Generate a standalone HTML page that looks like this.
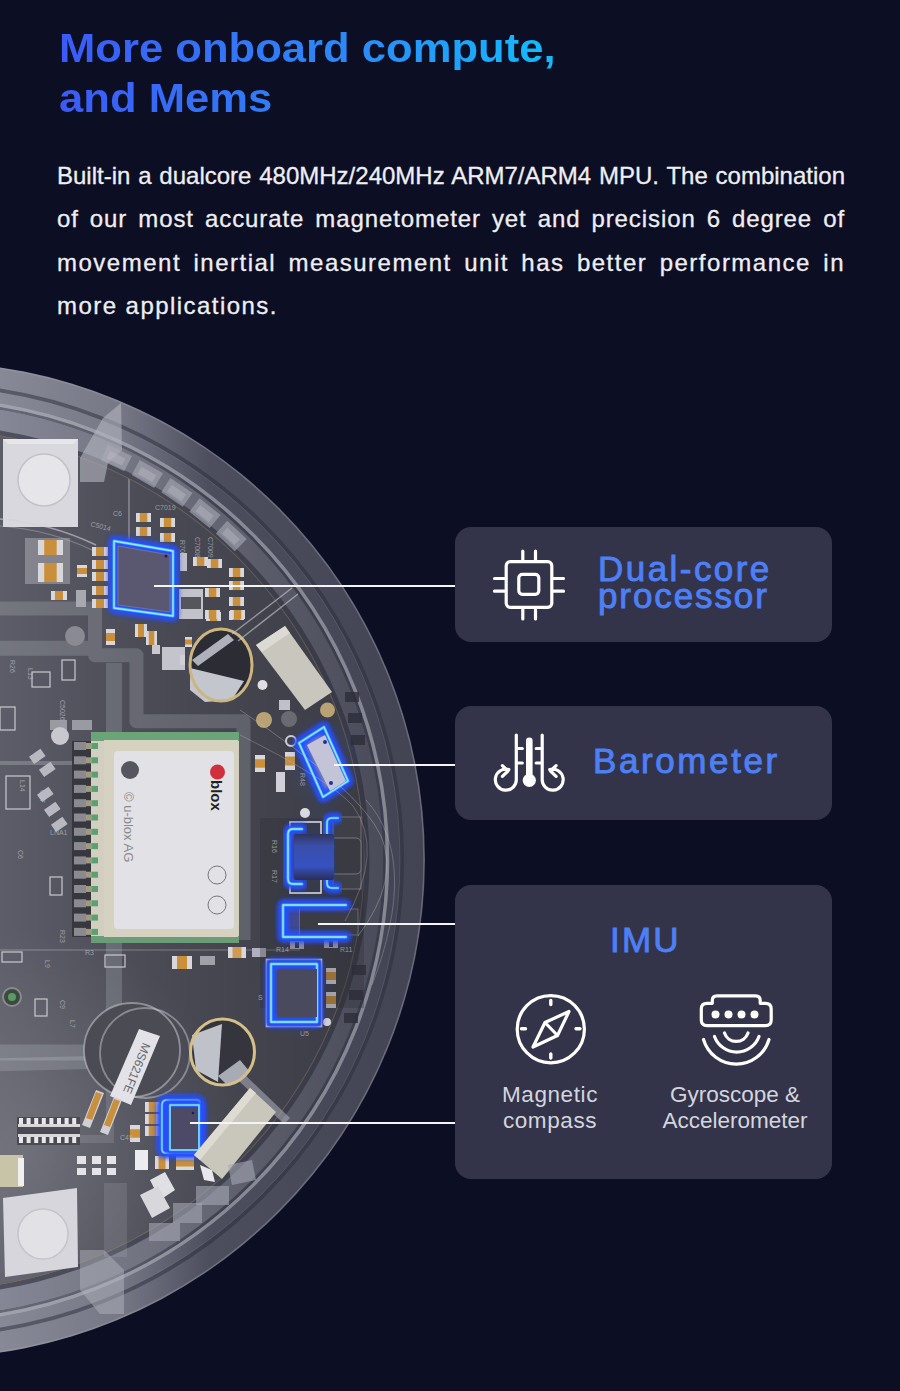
<!DOCTYPE html>
<html><head><meta charset="utf-8">
<style>
html,body{margin:0;padding:0;}
body{width:900px;height:1391px;overflow:hidden;background:#0c0e23;position:relative;font-family:"Liberation Sans",sans-serif;}
.abs{position:absolute;}
h1{position:absolute;left:59px;top:23px;margin:0;font-size:40px;line-height:50px;font-weight:bold;letter-spacing:0px;white-space:nowrap;transform:scaleX(1.09);transform-origin:0 0;
 background:linear-gradient(90deg,#3b5af8 0px,#3570f6 130px,#2a8cf8 280px,#14b8fc 440px,#12bcfc 480px);-webkit-background-clip:text;background-clip:text;color:transparent;width:520px;}
.para{position:absolute;left:57px;top:154px;width:788px;color:#eeeef3;font-size:24px;line-height:43.4px;-webkit-text-stroke:0.3px #eeeef3;}
.para div{text-align:justify;text-align-last:justify;white-space:nowrap;}
.para div.last{text-align-last:left;letter-spacing:1.45px;}
.card{position:absolute;left:455px;width:377px;background:#33344a;border-radius:16px;}
.ttl{position:absolute;color:#4d7ff5;font-weight:normal;-webkit-text-stroke:0.9px #4d7ff5;font-size:34px;white-space:nowrap;}
.lbl{position:absolute;color:#d4d5de;font-size:22.5px;white-space:nowrap;text-align:center;}
.ln{position:absolute;height:2px;background:#f4f4f6;}
svg{position:absolute;left:0;top:0;}
</style></head>
<body>
<h1>More onboard compute,<br>and Mems</h1>
<div class="para">
<div>Built-in a dualcore 480MHz/240MHz ARM7/ARM4 MPU. The combination</div>
<div style="letter-spacing:0.9px">of our most accurate magnetometer yet and precision 6 degree of</div>
<div style="letter-spacing:1.5px">movement inertial measurement unit has better performance in</div>
<div class="last">more applications.</div>
</div>

<!-- PCB -->
<svg id="pcb" width="900" height="1391" viewBox="0 0 900 1391">
<!--PCBSTART-->
<defs>
 <clipPath id="cOuter"><circle cx="-73" cy="860" r="498"/></clipPath>
 <clipPath id="cPcb"><ellipse cx="-73" cy="860" rx="437" ry="430"/></clipPath>
 <linearGradient id="gRim" x1="0" y1="0" x2="424" y2="0" gradientUnits="userSpaceOnUse">
  <stop offset="0" stop-color="#878997"/><stop offset="0.283" stop-color="#767886"/><stop offset="0.495" stop-color="#4c4e5e"/><stop offset="1" stop-color="#424454"/>
 </linearGradient>
 <linearGradient id="gDark" x1="0" y1="0" x2="424" y2="0" gradientUnits="userSpaceOnUse">
  <stop offset="0" stop-color="#858796"/><stop offset="0.354" stop-color="#70727f"/><stop offset="0.613" stop-color="#5a5c6a"/><stop offset="1" stop-color="#444654"/>
 </linearGradient>
 <linearGradient id="gPcb" x1="0" y1="0" x2="370" y2="0" gradientUnits="userSpaceOnUse">
  <stop offset="0" stop-color="#5c5d68"/><stop offset="0.4" stop-color="#4a4b55"/><stop offset="1" stop-color="#3a3b44"/>
 </linearGradient>
 <radialGradient id="gBL" cx="20" cy="1150" r="220" gradientUnits="userSpaceOnUse">
  <stop offset="0" stop-color="#ffffff" stop-opacity="0.14"/><stop offset="1" stop-color="#ffffff" stop-opacity="0"/>
 </radialGradient>
 <filter id="glow" x="-30%" y="-30%" width="160%" height="160%"><feGaussianBlur stdDeviation="2.6" result="b"/><feMerge><feMergeNode in="b"/><feMergeNode in="b"/></feMerge></filter>
 <radialGradient id="gHalo"><stop offset="0" stop-color="#3060ff" stop-opacity="0.22"/><stop offset="0.6" stop-color="#3060ff" stop-opacity="0.08"/><stop offset="1" stop-color="#3060ff" stop-opacity="0"/></radialGradient>
 <filter id="soft" x="-30%" y="-30%" width="160%" height="160%"><feGaussianBlur stdDeviation="0.6"/></filter>
</defs>
<g clip-path="url(#cOuter)">
 <rect x="0" y="360" width="430" height="1000" fill="url(#gRim)"/>
 <circle cx="-73" cy="860" r="475" fill="none" stroke="#2a2c3a" stroke-opacity="0.5" stroke-width="4"/>
 <circle cx="-73" cy="860" r="473" fill="none" stroke="#a8aab6" stroke-opacity="0.2" stroke-width="1"/>
 <circle cx="-73" cy="860" r="457.5" fill="none" stroke="#2a2c3a" stroke-opacity="0.35" stroke-width="3"/>
 <circle cx="-73" cy="860" r="460.5" fill="none" stroke="#b0b2bc" stroke-opacity="0.6" stroke-width="3.5"/>
 <circle cx="-73" cy="860" r="456" fill="url(#gDark)"/>
 <ellipse cx="-73" cy="860" rx="440" ry="433" fill="none" stroke="#2a2c38" stroke-opacity="0.6" stroke-width="5"/>
 <circle cx="-73" cy="860" r="497" fill="none" stroke="#a0a2b0" stroke-opacity="0.4" stroke-width="1.5"/>
</g>
<g clip-path="url(#cPcb)">
 <rect x="0" y="360" width="440" height="1000" fill="url(#gPcb)"/>
 <rect x="0" y="900" width="300" height="460" fill="url(#gBL)"/>
 <path d="M-5 608.5H95V655.3H136.5V721.3H243.5V940" stroke-width="14" stroke="#d8dae2" stroke-opacity="0.2" fill="none" stroke-linejoin="round"/>
 <path d="M-5 648.3H88" stroke-width="15" stroke="#d8dae2" stroke-opacity="0.2" fill="none" stroke-linejoin="round"/>
 <path d="M114 663V1052.5H-5" stroke-width="16" stroke="#d8dae2" stroke-opacity="0.2" fill="none" stroke-linejoin="round"/>
 <path d="M-5 1065L110 1062" stroke-width="13" stroke="#d8dae2" stroke-opacity="0.2" fill="none" stroke-linejoin="round"/>
 <line x1="0" y1="950" x2="300" y2="950" stroke="#d8dae2" stroke-opacity="0.25" stroke-width="1.5"/>
 <line x1="0" y1="763" x2="120" y2="763" stroke="#d8dae2" stroke-opacity="0.25" stroke-width="4"/>
 <path d="M20 1139H110V1080" stroke-width="8" stroke="#d8dae2" stroke-opacity="0.15" fill="none"/>
 <line x1="129" y1="470" x2="129" y2="540" stroke="#c8cad2" stroke-opacity="0.5" stroke-width="1.5"/>
</g>
<ellipse cx="-73" cy="860" rx="437" ry="430" fill="none" stroke="#6e5e4c" stroke-opacity="0.7" stroke-width="1"/>
 <rect x="136" y="513" width="15" height="9" fill="#d8d8dc"/>
 <rect x="139.8" y="513" width="7.5" height="9" fill="#c98f3a"/>
 <rect x="136" y="527" width="15" height="9" fill="#d8d8dc"/>
 <rect x="139.8" y="527" width="7.5" height="9" fill="#c98f3a"/>
 <rect x="160" y="518" width="15" height="9" fill="#d8d8dc"/>
 <rect x="163.8" y="518" width="7.5" height="9" fill="#c98f3a"/>
 <rect x="160" y="533" width="15" height="9" fill="#d8d8dc"/>
 <rect x="163.8" y="533" width="7.5" height="9" fill="#c98f3a"/>
 <rect x="193" y="557" width="15" height="9" fill="#d8d8dc"/>
 <rect x="196.8" y="557" width="7.5" height="9" fill="#c98f3a"/>
 <rect x="207" y="559" width="15" height="9" fill="#d8d8dc"/>
 <rect x="210.8" y="559" width="7.5" height="9" fill="#c98f3a"/>
 <rect x="229" y="568" width="15" height="9" fill="#d8d8dc"/>
 <rect x="232.8" y="568" width="7.5" height="9" fill="#c98f3a"/>
 <rect x="229" y="581" width="15" height="9" fill="#d8d8dc"/>
 <rect x="232.8" y="581" width="7.5" height="9" fill="#c98f3a"/>
 <rect x="229" y="597" width="15" height="9" fill="#d8d8dc"/>
 <rect x="232.8" y="597" width="7.5" height="9" fill="#c98f3a"/>
 <rect x="229" y="611" width="15" height="9" fill="#d8d8dc"/>
 <rect x="232.8" y="611" width="7.5" height="9" fill="#c98f3a"/>
 <rect x="205" y="588" width="15" height="9" fill="#d8d8dc"/>
 <rect x="208.8" y="588" width="7.5" height="9" fill="#c98f3a"/>
 <rect x="206" y="612" width="15" height="9" fill="#d8d8dc"/>
 <rect x="209.8" y="612" width="7.5" height="9" fill="#c98f3a"/>
 <rect x="205" y="610" width="15" height="9" fill="#d8d8dc"/>
 <rect x="208.8" y="610" width="7.5" height="9" fill="#c98f3a"/>
 <rect x="230" y="610" width="15" height="9" fill="#d8d8dc"/>
 <rect x="233.8" y="610" width="7.5" height="9" fill="#c98f3a"/>
 <rect x="92" y="547" width="16" height="9" fill="#d8d8dc"/>
 <rect x="96.0" y="547" width="8.0" height="9" fill="#c98f3a"/>
 <rect x="92" y="560" width="16" height="9" fill="#d8d8dc"/>
 <rect x="96.0" y="560" width="8.0" height="9" fill="#c98f3a"/>
 <rect x="92" y="572" width="16" height="9" fill="#d8d8dc"/>
 <rect x="96.0" y="572" width="8.0" height="9" fill="#c98f3a"/>
 <rect x="92" y="586" width="16" height="9" fill="#d8d8dc"/>
 <rect x="96.0" y="586" width="8.0" height="9" fill="#c98f3a"/>
 <rect x="92" y="599" width="16" height="9" fill="#d8d8dc"/>
 <rect x="96.0" y="599" width="8.0" height="9" fill="#c98f3a"/>
 <rect x="77" y="565" width="10" height="12" fill="#d8d8dc"/>
 <rect x="77" y="568.0" width="10" height="6.0" fill="#c98f3a"/>
 <rect x="76" y="590" width="10" height="17" fill="#a8a8b0" fill-opacity="1"/>
 <rect x="51" y="591" width="16" height="9" fill="#d8d8dc"/>
 <rect x="55.0" y="591" width="8.0" height="9" fill="#c98f3a"/>
 <rect x="106" y="629" width="9" height="16" fill="#d8d8dc"/>
 <rect x="106" y="633.0" width="9" height="8.0" fill="#c98f3a"/>
 <rect x="135" y="624" width="12" height="13" fill="#d8d8dc"/>
 <rect x="138.0" y="624" width="6.0" height="13" fill="#c98f3a"/>
 <rect x="146" y="631" width="11" height="14" fill="#d8d8dc"/>
 <rect x="148.8" y="631" width="5.5" height="14" fill="#c98f3a"/>
 <rect x="152" y="645" width="8" height="9" fill="#c8c8ce" fill-opacity="1"/>
 <rect x="162" y="647" width="23" height="23" fill="#c4c4cc" fill-opacity="1"/>
 <circle cx="75" cy="636" r="10" fill="#8a8a92"/>
 <rect x="25" y="538" width="45" height="22" fill="#b0b0b8" fill-opacity="0.5"/>
 <rect x="25" y="560" width="45" height="24" fill="#b0b0b8" fill-opacity="0.5"/>
 <rect x="38" y="540" width="25" height="15" fill="#d8d8dc"/>
 <rect x="44.2" y="540" width="12.5" height="15" fill="#c98f3a"/>
 <rect x="38" y="563" width="25" height="19" fill="#d8d8dc"/>
 <rect x="44.2" y="563" width="12.5" height="19" fill="#c98f3a"/>
 <rect x="180" y="553" width="7" height="18" fill="#c0c0c8" fill-opacity="1"/>
 <rect x="179" y="589" width="24" height="30" fill="#c2c2ca" fill-opacity="1"/>
 <rect x="181" y="597" width="20" height="12" fill="#55555c" fill-opacity="1"/>
 <rect x="185" y="637" width="7" height="10" fill="#d8d8dc"/>
 <rect x="185" y="639.5" width="7" height="5.0" fill="#c98f3a"/>
 <rect x="180" y="655" width="5" height="10" fill="#d0d0d6" fill-opacity="1"/>
 <rect x="32" y="672" width="18" height="15" fill="none" stroke="#c8c8d0" stroke-width="1.2"/>
 <rect x="62" y="660" width="13" height="20" fill="none" stroke="#c8c8d0" stroke-width="1.2"/>
 <rect x="0" y="707" width="15" height="23" fill="none" stroke="#c8c8d0" stroke-width="1.2"/>
 <rect x="6" y="776" width="24" height="33" fill="none" stroke="#c8c8d0" stroke-width="1.2"/>
 <rect x="50" y="877" width="12" height="18" fill="none" stroke="#c8c8d0" stroke-width="1.2"/>
 <rect x="2" y="952" width="20" height="10" fill="none" stroke="#c8c8d0" stroke-width="1.2"/>
 <rect x="105" y="955" width="20" height="12" fill="none" stroke="#c8c8d0" stroke-width="1.2"/>
 <rect x="35" y="999" width="12" height="17" fill="none" stroke="#c8c8d0" stroke-width="1.2"/>
 <rect x="50" y="720" width="17" height="10" fill="#9a9aa2" fill-opacity="1"/>
 <rect x="72" y="720" width="20" height="10" fill="#9a9aa2" fill-opacity="1"/>
 <circle cx="60" cy="736" r="9" fill="#c8c8ce"/>
 <circle cx="12" cy="997" r="9" fill="#3a4a3e" stroke="#8a8a90" stroke-width="2"/><circle cx="12" cy="997" r="4" fill="#5a9a64"/>
 <rect x="30" y="752" width="14" height="9" fill="#b8b8c0" transform="rotate(-35 37 756)"/>
 <rect x="40" y="765" width="14" height="9" fill="#b8b8c0" transform="rotate(-35 47 769)"/>
 <rect x="38" y="790" width="14" height="9" fill="#b8b8c0" transform="rotate(-35 45 794)"/>
 <rect x="45" y="805" width="14" height="9" fill="#b8b8c0" transform="rotate(-35 52 809)"/>
 <rect x="52" y="820" width="14" height="9" fill="#b8b8c0" transform="rotate(-35 59 824)"/>
 <rect x="172" y="956" width="20" height="13" fill="#d8d8dc"/>
 <rect x="177.0" y="956" width="10.0" height="13" fill="#c98f3a"/>
 <rect x="200" y="956" width="15" height="9" fill="#a0a0a8" fill-opacity="1"/>
 <rect x="17" y="1117" width="63" height="28" fill="#4a4b52" fill-opacity="1"/>
 <rect x="19.0" y="1118" width="4" height="6" fill="#e8e8ec" fill-opacity="1"/>
 <rect x="19.0" y="1137" width="4" height="6" fill="#e8e8ec" fill-opacity="1"/>
 <rect x="26.6" y="1118" width="4" height="6" fill="#e8e8ec" fill-opacity="1"/>
 <rect x="26.6" y="1137" width="4" height="6" fill="#e8e8ec" fill-opacity="1"/>
 <rect x="34.2" y="1118" width="4" height="6" fill="#e8e8ec" fill-opacity="1"/>
 <rect x="34.2" y="1137" width="4" height="6" fill="#e8e8ec" fill-opacity="1"/>
 <rect x="41.8" y="1118" width="4" height="6" fill="#e8e8ec" fill-opacity="1"/>
 <rect x="41.8" y="1137" width="4" height="6" fill="#e8e8ec" fill-opacity="1"/>
 <rect x="49.4" y="1118" width="4" height="6" fill="#e8e8ec" fill-opacity="1"/>
 <rect x="49.4" y="1137" width="4" height="6" fill="#e8e8ec" fill-opacity="1"/>
 <rect x="57.0" y="1118" width="4" height="6" fill="#e8e8ec" fill-opacity="1"/>
 <rect x="57.0" y="1137" width="4" height="6" fill="#e8e8ec" fill-opacity="1"/>
 <rect x="64.6" y="1118" width="4" height="6" fill="#e8e8ec" fill-opacity="1"/>
 <rect x="64.6" y="1137" width="4" height="6" fill="#e8e8ec" fill-opacity="1"/>
 <rect x="72.19999999999999" y="1118" width="4" height="6" fill="#e8e8ec" fill-opacity="1"/>
 <rect x="72.19999999999999" y="1137" width="4" height="6" fill="#e8e8ec" fill-opacity="1"/>
 <rect x="18" y="1124" width="62" height="3" fill="#d8d8dc" fill-opacity="1"/>
 <rect x="18" y="1134" width="62" height="3" fill="#d8d8dc" fill-opacity="1"/>
 <rect x="145" y="1102" width="15" height="10" fill="#d8d8dc"/>
 <rect x="148.8" y="1102" width="7.5" height="10" fill="#c98f3a"/>
 <rect x="145" y="1114" width="15" height="10" fill="#d8d8dc"/>
 <rect x="148.8" y="1114" width="7.5" height="10" fill="#c98f3a"/>
 <rect x="145" y="1126" width="15" height="10" fill="#d8d8dc"/>
 <rect x="148.8" y="1126" width="7.5" height="10" fill="#c98f3a"/>
 <rect x="130" y="1125" width="10" height="17" fill="#d8d8dc"/>
 <rect x="130" y="1129.2" width="10" height="8.5" fill="#c98f3a"/>
 <rect x="135" y="1150" width="13" height="20" fill="#ececf0" fill-opacity="1"/>
 <rect x="77" y="1156" width="9" height="8" fill="#e4e4e8" fill-opacity="1"/>
 <rect x="77" y="1168" width="9" height="7" fill="#e4e4e8" fill-opacity="1"/>
 <rect x="92" y="1156" width="9" height="8" fill="#e4e4e8" fill-opacity="1"/>
 <rect x="92" y="1168" width="9" height="7" fill="#e4e4e8" fill-opacity="1"/>
 <rect x="107" y="1156" width="9" height="8" fill="#e4e4e8" fill-opacity="1"/>
 <rect x="107" y="1168" width="9" height="7" fill="#e4e4e8" fill-opacity="1"/>
 <rect x="155" y="1156" width="14" height="13" fill="#d8d8dc"/>
 <rect x="158.5" y="1156" width="7.0" height="13" fill="#c98f3a"/>
 <rect x="176" y="1156" width="9" height="14" fill="#d8d8dc"/>
 <rect x="176" y="1159.5" width="9" height="7.0" fill="#c98f3a"/>
 <rect x="185" y="1156" width="9" height="14" fill="#d8d8dc"/>
 <rect x="185" y="1159.5" width="9" height="7.0" fill="#c98f3a"/>
 <rect x="0" y="1155" width="23" height="32" fill="#c8c4a8" fill-opacity="1"/>
 <rect x="18" y="1158" width="6" height="28" fill="#f0f0f0" fill-opacity="1"/>
 <polygon points="150,1180 165,1172 175,1190 160,1200" fill="#e0e0e4"/><polygon points="140,1195 158,1186 170,1208 152,1218" fill="#d8d8dc"/>
 <polygon points="200,1165 212,1170 215,1182 204,1180" fill="#e8e8ec"/>
 <rect x="255" y="755" width="10" height="17" fill="#d8d8dc"/>
 <rect x="255" y="759.2" width="10" height="8.5" fill="#c98f3a"/>
 <rect x="285" y="752" width="10" height="18" fill="#d8d8dc"/>
 <rect x="285" y="756.5" width="10" height="9.0" fill="#c98f3a"/>
 <rect x="276" y="772" width="9" height="20" fill="#d0d0d6" fill-opacity="1"/>
 <circle cx="305" cy="813" r="5" fill="#dcdce0"/><circle cx="291" cy="741" r="5" fill="none" stroke="#d0d0d6" stroke-width="2"/>
 <rect x="279" y="700" width="11" height="10" fill="#c0c0c8" fill-opacity="1"/>
 <rect x="326" y="968" width="10" height="16" fill="#d8d8dc"/>
 <rect x="326" y="972.0" width="10" height="8.0" fill="#c98f3a"/>
 <rect x="326" y="992" width="10" height="16" fill="#d8d8dc"/>
 <rect x="326" y="996.0" width="10" height="8.0" fill="#c98f3a"/>
 <rect x="290" y="941" width="14" height="8" fill="#b8b8c4" fill-opacity="1"/>
 <rect x="324" y="940" width="14" height="8" fill="#b8b8c4" fill-opacity="1"/>
 <rect x="295" y="942" width="4" height="6" fill="#3a3a44" fill-opacity="1"/>
 <rect x="329" y="941" width="4" height="6" fill="#3a3a44" fill-opacity="1"/>
 <circle cx="327" cy="1022" r="4" fill="#d0d0d6"/>
 <rect x="228" y="947" width="18" height="11" fill="#d8d8dc"/>
 <rect x="232.5" y="947" width="9.0" height="11" fill="#d09a50"/>
 <rect x="252" y="948" width="14" height="9" fill="#b0b0c0" fill-opacity="1"/>
 <ellipse cx="143" cy="579" rx="50" ry="55" fill="url(#gHalo)"/>
 <ellipse cx="323" cy="762" rx="40" ry="50" fill="url(#gHalo)"/>
 <ellipse cx="318" cy="855" rx="45" ry="50" fill="url(#gHalo)"/>
 <ellipse cx="318" cy="921" rx="50" ry="30" fill="url(#gHalo)"/>
 <ellipse cx="294" cy="992" rx="42" ry="48" fill="url(#gHalo)"/>
 <ellipse cx="181" cy="1126" rx="35" ry="40" fill="url(#gHalo)"/>
 <polygon points="112,539 175,549 175,618 112,610" fill="#55546a"/>
 <path d="M114 541 L173 551 V616 L114 608 Z" fill="none" stroke="#2a50ff" stroke-width="9" stroke-opacity="0.9" filter="url(#glow)" stroke-linejoin="round" stroke-linecap="round"/>
 <path d="M114 541 L173 551 V616 L114 608 Z" fill="none" stroke="#3aa8ff" stroke-width="3" stroke-linejoin="round" stroke-linecap="round"/>
 <path d="M114 541 L173 551 V616 L114 608 Z" fill="none" stroke="#9ee8ff" stroke-width="1.35" stroke-linejoin="round" stroke-linecap="round"/>
 <polygon points="118,546 170,555 170,612 118,605" fill="#5a5870" stroke="#7a78a8" stroke-width="0.8"/>
 <circle cx="166" cy="556" r="1.5" fill="#1a1a60"/>
 <rect x="91" y="732" width="148" height="211" fill="#d2cfc0"/>
 <rect x="91" y="732" width="148" height="9" fill="#6aa478"/>
 <rect x="91" y="936" width="148" height="7" fill="#6a9c78"/>
 <rect x="104" y="740" width="134" height="197" fill="#d6d2c2"/>
 <rect x="114" y="751" width="120" height="178" rx="4" fill="#e2e2e6"/>
 <circle cx="130" cy="770" r="9" fill="#56565e"/>
 <circle cx="217.5" cy="772" r="7.5" fill="#d0303c"/>
 <text x="0" y="0" transform="translate(211,780) rotate(90)" font-family="Liberation Sans" font-weight="bold" font-size="15" fill="#222">blox</text>
 <text x="0" y="0" transform="translate(124,792) rotate(90)" font-family="Liberation Sans" font-size="13" fill="#8a8a8e">© u-blox AG</text>
 <circle cx="217" cy="875" r="9" fill="none" stroke="#777" stroke-width="1"/>
 <circle cx="217" cy="905" r="9" fill="none" stroke="#777" stroke-width="1"/>
 <rect x="72" y="741" width="19" height="196" fill="#34343c" fill-opacity="0.9"/>
 <rect x="74" y="742.0" width="12" height="8" fill="#8a8a90"/>
 <rect x="86" y="743.0" width="6" height="6" fill="#a09a80"/>
 <rect x="92" y="743.0" width="6" height="6" fill="#5aa070"/>
 <rect x="74" y="756.3" width="12" height="8" fill="#8a8a90"/>
 <rect x="86" y="757.3" width="6" height="6" fill="#a09a80"/>
 <rect x="92" y="757.3" width="6" height="6" fill="#5aa070"/>
 <rect x="74" y="770.6" width="12" height="8" fill="#8a8a90"/>
 <rect x="86" y="771.6" width="6" height="6" fill="#a09a80"/>
 <rect x="92" y="771.6" width="6" height="6" fill="#5aa070"/>
 <rect x="74" y="784.9" width="12" height="8" fill="#8a8a90"/>
 <rect x="86" y="785.9" width="6" height="6" fill="#a09a80"/>
 <rect x="92" y="785.9" width="6" height="6" fill="#5aa070"/>
 <rect x="74" y="799.2" width="12" height="8" fill="#8a8a90"/>
 <rect x="86" y="800.2" width="6" height="6" fill="#a09a80"/>
 <rect x="92" y="800.2" width="6" height="6" fill="#5aa070"/>
 <rect x="74" y="813.5" width="12" height="8" fill="#8a8a90"/>
 <rect x="86" y="814.5" width="6" height="6" fill="#a09a80"/>
 <rect x="92" y="814.5" width="6" height="6" fill="#5aa070"/>
 <rect x="74" y="827.8" width="12" height="8" fill="#8a8a90"/>
 <rect x="86" y="828.8" width="6" height="6" fill="#a09a80"/>
 <rect x="92" y="828.8" width="6" height="6" fill="#5aa070"/>
 <rect x="74" y="842.1" width="12" height="8" fill="#8a8a90"/>
 <rect x="86" y="843.1" width="6" height="6" fill="#a09a80"/>
 <rect x="92" y="843.1" width="6" height="6" fill="#5aa070"/>
 <rect x="74" y="856.4" width="12" height="8" fill="#8a8a90"/>
 <rect x="86" y="857.4" width="6" height="6" fill="#a09a80"/>
 <rect x="92" y="857.4" width="6" height="6" fill="#5aa070"/>
 <rect x="74" y="870.7" width="12" height="8" fill="#8a8a90"/>
 <rect x="86" y="871.7" width="6" height="6" fill="#a09a80"/>
 <rect x="92" y="871.7" width="6" height="6" fill="#5aa070"/>
 <rect x="74" y="885.0" width="12" height="8" fill="#8a8a90"/>
 <rect x="86" y="886.0" width="6" height="6" fill="#a09a80"/>
 <rect x="92" y="886.0" width="6" height="6" fill="#5aa070"/>
 <rect x="74" y="899.3" width="12" height="8" fill="#8a8a90"/>
 <rect x="86" y="900.3" width="6" height="6" fill="#a09a80"/>
 <rect x="92" y="900.3" width="6" height="6" fill="#5aa070"/>
 <rect x="74" y="913.6" width="12" height="8" fill="#8a8a90"/>
 <rect x="86" y="914.6" width="6" height="6" fill="#a09a80"/>
 <rect x="92" y="914.6" width="6" height="6" fill="#5aa070"/>
 <rect x="74" y="927.9" width="12" height="8" fill="#8a8a90"/>
 <rect x="86" y="928.9" width="6" height="6" fill="#a09a80"/>
 <rect x="92" y="928.9" width="6" height="6" fill="#5aa070"/>
 <ellipse cx="221" cy="665" rx="31" ry="36" fill="#2c2d34"/>
 <polygon points="190,668 244,681 232,700 205,702 190,690" fill="#c4c6ce"/>
 <polygon points="192,660 228,634 234,640 198,666" fill="#aeb0ba"/>
 <ellipse cx="221" cy="665" rx="31" ry="36" fill="none" stroke="#cbb680" stroke-width="3"/>
 <path d="M232 634L292 588M238 641L298 594" stroke="#c8cad4" stroke-opacity="0.6" stroke-width="1.5"/>
 <polygon points="256,645 285,626 332,692 305,710" fill="#c9c7bd"/>
 <polygon points="256,645 285,626 290,633 262,652" fill="#dcdad2"/>
 <circle cx="327.5" cy="710" r="7.5" fill="#b9a274"/>
 <circle cx="264" cy="720" r="8" fill="#b9a274"/>
 <circle cx="289" cy="719" r="8" fill="#6a6a72"/>
 <circle cx="262.5" cy="685" r="5" fill="#e0e0e4"/>
 <polygon points="298,742 324,725 350,782 323,799" fill="#8a8aa8"/>
 <path d="M299 743 L324 727 L348 781 L323 797 Z" fill="none" stroke="#2a50ff" stroke-width="9" stroke-opacity="0.9" filter="url(#glow)" stroke-linejoin="round" stroke-linecap="round"/>
 <path d="M299 743 L324 727 L348 781 L323 797 Z" fill="none" stroke="#3aa8ff" stroke-width="3" stroke-linejoin="round" stroke-linecap="round"/>
 <path d="M299 743 L324 727 L348 781 L323 797 Z" fill="none" stroke="#9ee8ff" stroke-width="1.35" stroke-linejoin="round" stroke-linecap="round"/>
 <polygon points="307,745 325,735 346,781 330,791" fill="#c4c4d8"/>
 <circle cx="325" cy="742" r="2" fill="#2030a0"/><circle cx="331" cy="783" r="2" fill="#2030a0"/>
 <rect x="260" y="818" width="104" height="190" fill="#2a2b32" fill-opacity="0.3"/>
 <rect x="333" y="817" width="28" height="72" fill="#3e3f47" stroke="#707078" stroke-width="1"/>
 <rect x="328" y="838" width="33" height="36" rx="5" fill="#3a3a42" stroke="#76767e" stroke-width="1"/>
 <path d="M338 818 H332 Q327 818 327 823 V883 Q327 888 332 888 H338" fill="none" stroke="#2a50ff" stroke-width="8.5" stroke-opacity="0.9" filter="url(#glow)" stroke-linejoin="round" stroke-linecap="round"/>
 <path d="M338 818 H332 Q327 818 327 823 V883 Q327 888 332 888 H338" fill="none" stroke="#3aa8ff" stroke-width="2.5" stroke-linejoin="round" stroke-linecap="round"/>
 <path d="M338 818 H332 Q327 818 327 823 V883 Q327 888 332 888 H338" fill="none" stroke="#9ee8ff" stroke-width="1.12" stroke-linejoin="round" stroke-linecap="round"/>
 <rect x="290" y="822" width="31" height="71" fill="none" stroke="#d4d6e4" stroke-width="1.6"/>
 <path d="M302 829 H293 Q288 829 288 834 V879 Q288 884 293 884 H302" fill="none" stroke="#2a50ff" stroke-width="9" stroke-opacity="0.9" filter="url(#glow)" stroke-linejoin="round" stroke-linecap="round"/>
 <path d="M302 829 H293 Q288 829 288 834 V879 Q288 884 293 884 H302" fill="none" stroke="#3aa8ff" stroke-width="3" stroke-linejoin="round" stroke-linecap="round"/>
 <path d="M302 829 H293 Q288 829 288 834 V879 Q288 884 293 884 H302" fill="none" stroke="#9ee8ff" stroke-width="1.35" stroke-linejoin="round" stroke-linecap="round"/>
 <defs><linearGradient id="gInd" x1="0" y1="834" x2="0" y2="880" gradientUnits="userSpaceOnUse"><stop offset="0" stop-color="#30345a"/><stop offset="0.25" stop-color="#3a4ea8"/><stop offset="0.7" stop-color="#3552c0"/><stop offset="1" stop-color="#2a2e58"/></linearGradient></defs>
 <rect x="294" y="834" width="40" height="46" rx="2" fill="url(#gInd)"/>
 <rect x="288" y="909" width="70" height="26" fill="#3c3c44" stroke="#67676f" stroke-width="1"/>
 <rect x="284" y="906" width="16" height="31" fill="#3f4a90"/>
 <path d="M346 905 H283 V937 H346" fill="none" stroke="#2a50ff" stroke-width="9" stroke-opacity="0.9" filter="url(#glow)" stroke-linejoin="round" stroke-linecap="round"/>
 <path d="M346 905 H283 V937 H346" fill="none" stroke="#3aa8ff" stroke-width="3" stroke-linejoin="round" stroke-linecap="round"/>
 <path d="M346 905 H283 V937 H346" fill="none" stroke="#9ee8ff" stroke-width="1.35" stroke-linejoin="round" stroke-linecap="round"/>
 <line x1="299.5" y1="909" x2="299.5" y2="935" stroke="#6a6a72" stroke-width="1"/>
 <rect x="266.5" y="959.5" width="55" height="67" fill="#454556" stroke="#d0d0da" stroke-width="1.6"/>
 <path d="M271 964 H317 V1022 H271 Z" fill="none" stroke="#2a50ff" stroke-width="9" stroke-opacity="0.9" filter="url(#glow)" stroke-linejoin="round" stroke-linecap="round"/>
 <path d="M271 964 H317 V1022 H271 Z" fill="none" stroke="#3aa8ff" stroke-width="3" stroke-linejoin="round" stroke-linecap="round"/>
 <path d="M271 964 H317 V1022 H271 Z" fill="none" stroke="#9ee8ff" stroke-width="1.35" stroke-linejoin="round" stroke-linecap="round"/>
 <rect x="278" y="969" width="39" height="48" fill="#4a4a5e"/>
 <ellipse cx="132" cy="1050" rx="48" ry="47" fill="#4a4b53" stroke="#d0d2da" stroke-opacity="0.5" stroke-width="1.8"/>
 <ellipse cx="145" cy="1053" rx="45" ry="45" fill="none" stroke="#d0d2da" stroke-opacity="0.45" stroke-width="1.8"/>
 <polygon points="139,1029 160,1036 131,1105 110,1096" fill="#e2e2e8"/>
 <text x="0" y="0" transform="translate(143,1042) rotate(112)" font-family="Liberation Sans" font-size="12" fill="#666">MS621FE</text>
 <polygon points="96,1090 104,1093 90,1128 82,1125" fill="#d0d0d4"/><polygon points="96,1092 102,1094 92,1120 86,1118" fill="#c8903c"/>
 <polygon points="114,1097 122,1100 108,1135 100,1132" fill="#d0d0d4"/><polygon points="114,1099 120,1101 110,1127 104,1125" fill="#c8903c"/>
 <ellipse cx="222.5" cy="1052" rx="32" ry="33" fill="#34353d"/>
 <polygon points="192,1035 222,1024 218,1082 196,1070" fill="#c0c2ca"/>
 <polygon points="218,1076 240,1060 250,1072 228,1086" fill="#a8aab4"/>
 <ellipse cx="222.5" cy="1052" rx="32" ry="33" fill="none" stroke="#d4c088" stroke-width="3"/>
 <polygon points="245,1075 290,1118 284,1124 239,1081" fill="#b8bac4" fill-opacity="0.5"/>
 <rect x="161" y="1099" width="40" height="55" rx="5" fill="#4a4a62"/>
 <path d="M167 1100 H196 Q200 1100 200 1104 V1149 Q200 1153 196 1153 H166 Q162 1153 162 1149 V1105 Q162 1100 167 1100Z" fill="none" stroke="#2a50ff" stroke-width="8.6" stroke-opacity="0.9" filter="url(#glow)" stroke-linejoin="round" stroke-linecap="round"/>
 <path d="M167 1100 H196 Q200 1100 200 1104 V1149 Q200 1153 196 1153 H166 Q162 1153 162 1149 V1105 Q162 1100 167 1100Z" fill="none" stroke="#3aa8ff" stroke-width="2.6" stroke-linejoin="round" stroke-linecap="round"/>
 <path d="M167 1100 H196 Q200 1100 200 1104 V1149 Q200 1153 196 1153 H166 Q162 1153 162 1149 V1105 Q162 1100 167 1100Z" fill="none" stroke="#9ee8ff" stroke-width="1.17" stroke-linejoin="round" stroke-linecap="round"/>
 <path d="M170 1105 H199 V1150 H170Z" fill="none" stroke="#2a50ff" stroke-width="8.4" stroke-opacity="0.9" filter="url(#glow)" stroke-linejoin="round" stroke-linecap="round"/>
 <path d="M170 1105 H199 V1150 H170Z" fill="none" stroke="#3aa8ff" stroke-width="2.4" stroke-linejoin="round" stroke-linecap="round"/>
 <path d="M170 1105 H199 V1150 H170Z" fill="none" stroke="#9ee8ff" stroke-width="1.08" stroke-linejoin="round" stroke-linecap="round"/>
 <rect x="171" y="1107" width="27" height="42" fill="#4c4a66"/>
 <circle cx="193" cy="1113" r="1.3" fill="#1a1a60"/>
 <polygon points="194,1155 250,1088 276,1112 222,1179" fill="#c9c7bc"/>
 <polygon points="194,1155 250,1088 256,1093 200,1160" fill="#dddbd2"/>
 <text x="113" y="516" transform="rotate(0 113 516)" font-family="Liberation Sans" font-size="7" fill="#c0c0c8" fill-opacity="0.7">C6</text>
 <text x="155" y="510" transform="rotate(0 155 510)" font-family="Liberation Sans" font-size="7" fill="#c0c0c8" fill-opacity="0.7">C7019</text>
 <text x="90" y="526" transform="rotate(15 90 526)" font-family="Liberation Sans" font-size="7" fill="#c0c0c8" fill-opacity="0.7">C5014</text>
 <text x="180" y="540" transform="rotate(90 180 540)" font-family="Liberation Sans" font-size="7" fill="#c0c0c8" fill-opacity="0.7">R7001</text>
 <text x="195" y="537" transform="rotate(90 195 537)" font-family="Liberation Sans" font-size="7" fill="#c0c0c8" fill-opacity="0.7">C7008</text>
 <text x="208" y="537" transform="rotate(90 208 537)" font-family="Liberation Sans" font-size="7" fill="#c0c0c8" fill-opacity="0.7">C7009</text>
 <text x="10" y="660" transform="rotate(90 10 660)" font-family="Liberation Sans" font-size="7" fill="#c0c0c8" fill-opacity="0.7">R26</text>
 <text x="28" y="668" transform="rotate(90 28 668)" font-family="Liberation Sans" font-size="7" fill="#c0c0c8" fill-opacity="0.7">L13</text>
 <text x="60" y="700" transform="rotate(90 60 700)" font-family="Liberation Sans" font-size="7" fill="#c0c0c8" fill-opacity="0.7">C5026</text>
 <text x="20" y="780" transform="rotate(90 20 780)" font-family="Liberation Sans" font-size="7" fill="#c0c0c8" fill-opacity="0.7">L14</text>
 <text x="40" y="790" transform="rotate(90 40 790)" font-family="Liberation Sans" font-size="7" fill="#c0c0c8" fill-opacity="0.7">C37</text>
 <text x="50" y="835" transform="rotate(0 50 835)" font-family="Liberation Sans" font-size="7" fill="#c0c0c8" fill-opacity="0.7">LNA1</text>
 <text x="18" y="850" transform="rotate(90 18 850)" font-family="Liberation Sans" font-size="7" fill="#c0c0c8" fill-opacity="0.7">C6</text>
 <text x="60" y="930" transform="rotate(90 60 930)" font-family="Liberation Sans" font-size="7" fill="#c0c0c8" fill-opacity="0.7">R23</text>
 <text x="85" y="955" transform="rotate(0 85 955)" font-family="Liberation Sans" font-size="7" fill="#c0c0c8" fill-opacity="0.7">R3</text>
 <text x="45" y="960" transform="rotate(90 45 960)" font-family="Liberation Sans" font-size="7" fill="#c0c0c8" fill-opacity="0.7">L9</text>
 <text x="60" y="1000" transform="rotate(90 60 1000)" font-family="Liberation Sans" font-size="7" fill="#c0c0c8" fill-opacity="0.7">C9</text>
 <text x="70" y="1020" transform="rotate(90 70 1020)" font-family="Liberation Sans" font-size="7" fill="#c0c0c8" fill-opacity="0.7">L7</text>
 <text x="300" y="773" transform="rotate(90 300 773)" font-family="Liberation Sans" font-size="7" fill="#c0c0c8" fill-opacity="0.7">R48</text>
 <text x="300" y="1036" transform="rotate(0 300 1036)" font-family="Liberation Sans" font-size="7" fill="#c0c0c8" fill-opacity="0.7">U5</text>
 <text x="120" y="1140" transform="rotate(0 120 1140)" font-family="Liberation Sans" font-size="7" fill="#c0c0c8" fill-opacity="0.7">C45</text>
 <text x="258" y="1000" transform="rotate(0 258 1000)" font-family="Liberation Sans" font-size="7" fill="#c0c0c8" fill-opacity="0.7">S</text>
 <text x="276" y="952" transform="rotate(0 276 952)" font-family="Liberation Sans" font-size="7" fill="#c0c0c8" fill-opacity="0.7">R14</text>
 <text x="340" y="952" transform="rotate(0 340 952)" font-family="Liberation Sans" font-size="7" fill="#c0c0c8" fill-opacity="0.7">R11</text>
 <text x="272" y="840" transform="rotate(90 272 840)" font-family="Liberation Sans" font-size="7" fill="#c0c0c8" fill-opacity="0.7">R16</text>
 <text x="272" y="870" transform="rotate(90 272 870)" font-family="Liberation Sans" font-size="7" fill="#c0c0c8" fill-opacity="0.7">R17</text>
 <path d="M240 710Q360 790 381 836Q400 880 358 936" fill="none" stroke="#c8cad4" stroke-opacity="0.35" stroke-width="1"/>
 <path d="M240 735Q330 780 353 806Q385 850 345 921" fill="none" stroke="#c8cad4" stroke-opacity="0.3" stroke-width="1"/>
 <path d="M366 800Q420 860 372 985" fill="none" stroke="#c8cad4" stroke-opacity="0.3" stroke-width="1"/>
 <polygon points="3,439 78,439 78,527 3,527" fill="#d8d8de"/>
 <polygon points="3,439 78,439 74,444 8,444" fill="#e6e6ea"/>
 <circle cx="44" cy="480" r="26" fill="#e6e6ea" stroke="#c2c2c8" stroke-width="1.5"/>
 <polygon points="80,482 80,458 103,418 121,403 122,450 108,463 104,482" fill="#b4b6c0" fill-opacity="0.6"/>
 <path d="M0 519Q50 523 96 545" fill="none" stroke="#d0d2da" stroke-opacity="0.6" stroke-width="1.5"/>
 <path d="M0 526Q50 530 92 550" fill="none" stroke="#d0d2da" stroke-opacity="0.35" stroke-width="1.2"/>
 <polygon points="3,1198 77,1188 78,1267 5,1277" fill="#d6d6dc"/>
 <circle cx="43" cy="1234" r="25" fill="#e2e2e6" stroke="#c4c4ca" stroke-width="1.5"/>
 <rect x="345" y="692" width="14" height="10" fill="#2c2d38" fill-opacity="0.8"/>
 <rect x="348" y="713" width="14" height="10" fill="#2c2d38" fill-opacity="0.8"/>
 <rect x="351" y="735" width="14" height="10" fill="#2c2d38" fill-opacity="0.8"/>
 <rect x="352" y="965" width="14" height="10" fill="#2c2d38" fill-opacity="0.8"/>
 <rect x="349" y="990" width="14" height="10" fill="#2c2d38" fill-opacity="0.8"/>
 <rect x="344" y="1013" width="14" height="10" fill="#2c2d38" fill-opacity="0.8"/>
 <polygon points="149,1223 180,1223 180,1241 149,1241" fill="#a4a6b2" fill-opacity="0.6"/>
 <polygon points="173,1203 202,1203 202,1223 173,1223" fill="#a4a6b2" fill-opacity="0.6"/>
 <polygon points="196,1186 229,1186 229,1205 196,1205" fill="#a4a6b2" fill-opacity="0.6"/>
 <polygon points="228,1165 252,1160 256,1180 232,1185" fill="#a4a6b2" fill-opacity="0.6"/>
 <polygon points="80,1250 104,1250 124,1270 124,1314 100,1314 80,1290" fill="#b0b2bc" fill-opacity="0.5"/>
 <rect x="104" y="1183" width="23" height="74" fill="#c8cad4" fill-opacity="0.15"/>
 <polygon points="107.6,444.6 132.0,456.0 124.3,471.2 100.9,460.2" fill="#a8aab6" fill-opacity="0.6"/>
 <polygon points="109.9,451.1 125.5,458.4 122.0,465.5 106.7,458.4" fill="#c0c2cc" fill-opacity="0.35"/>
 <polygon points="139.7,460.0 163.0,473.3 154.2,487.9 131.7,475.0" fill="#a8aab6" fill-opacity="0.6"/>
 <polygon points="141.5,466.7 156.4,475.2 152.3,482.1 137.6,473.7" fill="#c0c2cc" fill-opacity="0.35"/>
 <polygon points="170.4,477.9 192.6,493.1 182.7,506.8 161.3,492.3" fill="#a8aab6" fill-opacity="0.6"/>
 <polygon points="171.7,484.7 185.9,494.4 181.3,500.9 167.3,491.4" fill="#c0c2cc" fill-opacity="0.35"/>
 <polygon points="199.6,498.2 220.6,515.0 209.6,528.0 189.4,511.8" fill="#a8aab6" fill-opacity="0.6"/>
 <polygon points="200.3,505.1 213.8,515.8 208.6,522.0 195.5,511.4" fill="#c0c2cc" fill-opacity="0.35"/>
 <polygon points="227.2,520.7 246.8,539.1 234.8,551.2 215.9,533.5" fill="#a8aab6" fill-opacity="0.6"/>
 <polygon points="227.4,527.6 239.9,539.4 234.3,545.1 222.0,533.5" fill="#c0c2cc" fill-opacity="0.35"/>
<!--PCBEND-->
</svg>

<div class="ln" style="left:154px;top:585px;width:301px"></div>
<div class="ln" style="left:334px;top:764px;width:121px"></div>
<div class="ln" style="left:318px;top:923px;width:137px"></div>
<div class="ln" style="left:190px;top:1122px;width:265px"></div>

<div class="card" style="top:527px;height:115px"></div>
<div class="card" style="top:706px;height:114px"></div>
<div class="card" style="top:885px;height:294px"></div>

<svg width="900" height="1391" style="pointer-events:none">
<g fill="none" stroke="#ffffff" stroke-width="3.2" stroke-linecap="round" stroke-linejoin="round">
 <!-- cpu -->
 <rect x="506.2" y="561.7" width="45.6" height="45.6" rx="4"/>
 <rect x="518.8" y="574.3" width="20" height="20" rx="3.5"/>
 <path d="M522.8 551v9.5M535.5 551v9.5M522.8 609.5v9.5M535.5 609.5v9.5M494.5 578.5h10M494.5 591.2h10M553.5 578.5h10M553.5 591.2h10"/>
 <!-- barometer -->
 <path d="M516.3 735V779A10.5 10.5 0 1 1 508.8 769.6M502.4 765.6L508 771L502.4 776.4M516.3 748.5H522.3M516.3 763H522.3"/>
 <path d="M542.2 735V779A10.5 10.5 0 1 0 549.7 769.6M556.1 765.6L550.5 771L556.1 776.4M542.2 748.5H536.2M542.2 763H536.2"/>
 <!-- compass -->
 <circle cx="550.8" cy="1029.2" r="33.6"/>
 <path d="M550.8 1000.5V1004.5M550.8 1054V1058M521.5 1028.8H525.5M576 1028.8H580" stroke-width="3.4"/>
 <path d="M569 1011.5L557.5 1035.5L533 1047L545 1022.5Z M545 1022.5L557.5 1035.5"/>
 <!-- gyro -->
 <path d="M717 995.8H755.5Q760.2 995.8 760.2 1000.5V1003.3H765.5Q771.2 1003.3 771.2 1009V1020Q771.2 1025.7 765.5 1025.7H707Q701.3 1025.7 701.3 1020V1009Q701.3 1003.3 707 1003.3H712.3V1000.5Q712.3 995.8 717 995.8Z"/>
 <path d="M724.5 1033A12.4 12.4 0 0 0 748 1033M714.5 1036.5A23.7 23.7 0 0 0 759 1036.5M703.5 1039.5A34.1 34.1 0 0 0 769 1039.5"/>
</g>
<g fill="#ffffff">
 <rect x="526" y="737.5" width="6.6" height="40" rx="3.3"/>
 <circle cx="529.3" cy="780.3" r="6.6"/>
 <circle cx="715.5" cy="1014.5" r="4"/><circle cx="728.5" cy="1014.5" r="4"/><circle cx="741.5" cy="1014.5" r="4"/><circle cx="754.5" cy="1014.5" r="4"/>
</g>
</svg>

<div class="ttl" style="left:598px;top:550px;font-size:35px;letter-spacing:2.45px;line-height:38px">Dual-core</div>
<div class="ttl" style="left:598px;top:577px;font-size:35px;letter-spacing:1.9px;line-height:38px">processor</div>
<div class="ttl" style="left:593px;top:742px;font-size:35px;letter-spacing:2.6px;line-height:38px">Barometer</div>
<div class="ttl" style="left:610px;top:921px;font-size:35px;letter-spacing:2.2px;line-height:38px">IMU</div>
<div class="lbl" style="left:490px;top:1082px;width:120px;line-height:26px;letter-spacing:0.6px">Magnetic<br>compass</div>
<div class="lbl" style="left:650px;top:1082px;width:170px;line-height:26px">Gyroscope &amp;<br>Accelerometer</div>
</body></html>
